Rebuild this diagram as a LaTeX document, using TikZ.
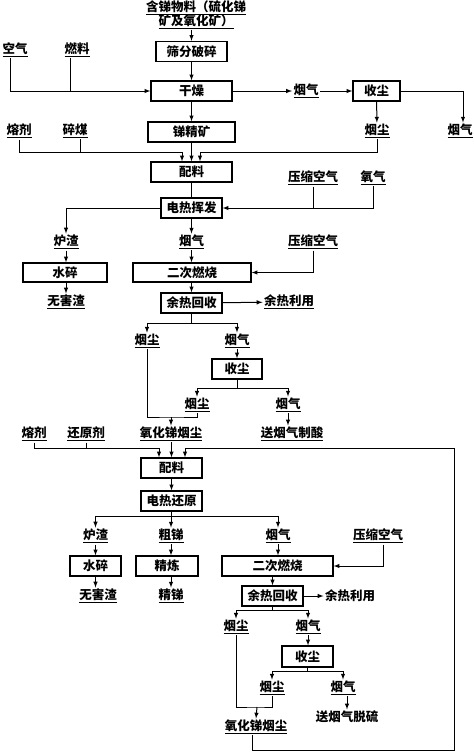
\documentclass[tikz,border=0pt]{standalone}
\usepackage{fontspec}
\newfontfamily\cjk{Noto Sans CJK SC}
\usetikzlibrary{arrows}
\tikzset{
    box/.style={draw,line width=1.3pt,minimum height=20pt,inner sep=0pt,font=\cjk\bfseries\fontsize{12.5}{14}\selectfont},
    tag/.style={inner sep=1pt,font=\cjk\bfseries\fontsize{12.5}{14}\selectfont},
}
\newcommand\ul[1]{\underline{#1}}
\begin{document}
\begin{tikzpicture}[x=1pt,y=-1pt,line width=1pt,>=latex]
    \useasboundingbox (0,0) rectangle (474,753);
    % drying
    \node[tag,align=center,inner sep=0pt] (feed) at (196,15) {\ul{含锑物料（硫化锑}\\[-1pt]\ul{矿及氧化矿）}};
    \node[box,minimum width=71pt] (sf) at (191.5,51.5) {筛分破碎};
    \node[tag] (air) at (15,50) {\ul{空气}};
    \node[tag] (fuel) at (77,50) {\ul{燃料}};
    \node[box,minimum width=81pt] (gz) at (191.5,91) {干燥};
    \node[tag] (yq1) at (306,91) {\ul{烟气}};
    \node[box,minimum width=47pt] (sc1) at (376.5,91) {收尘};
    \node[tag] (yc1) at (377,131) {\ul{烟尘}};
    \node[tag] (yq2) at (460,131) {\ul{烟气}};
    \node[box,minimum width=87pt] (jk) at (191.5,132) {锑精矿};
    \node[tag] (rj1) at (19,131) {\ul{熔剂}};
    \node[tag] (sm) at (75,131) {\ul{碎煤}};
    \draw[->] (feed.south -| sf.north) -- (sf.north);
    \draw[->] (sf) -- (gz);
    \draw[->] ([xshift=-5pt]air.south) |- (gz.west);
    \draw ([xshift=-7pt]fuel.south) -- ([xshift=-7pt]fuel.south |- gz.west);
    \draw[->] (gz) -- (yq1);
    \draw[->] (yq1) -- (sc1);
    \draw[->] (sc1.east) -| ([xshift=3pt]yq2.north);
    \draw[->] (sc1) -- (yc1);
    \draw[->] (gz) -- (jk);
    % volatilization
    \node[box,minimum width=81pt] (pl1) at (191.5,172) {配料};
    \coordinate (j1) at (182,152);
    \coordinate (j2) at (200,152);
    \draw[->] (rj1.south) |- (j1) -- (j1 |- pl1.north);
    \draw (sm.south -| 80,0) -- (j1 -| 80,0);
    \draw[->] (jk) -- (pl1);
    \draw[->] (yc1.south) |- (j2) -- (j2 |- pl1.north);
    \node[tag] (ya1) at (313,178) {\ul{压缩空气}};
    \node[tag] (o2) at (373,178) {\ul{氧气}};
    \node[box,minimum width=61pt] (dh) at (191.5,208) {电热挥发};
    \draw (pl1) -- (dh);
    \draw[->] (o2.south) |- (dh.east);
    \draw (ya1.south) -- (ya1.south |- dh.east);
    \node[tag] (lz1) at (66,242) {\ul{炉渣}};
    \node[tag] (yq3) at (191.5,242) {\ul{烟气}};
    \node[tag] (ya2) at (313,242) {\ul{压缩空气}};
    \node[box,minimum width=84pt,minimum height=19pt] (ss1) at (65,272.5) {水碎};
    \node[box,minimum width=118pt,minimum height=19pt] (ec1) at (192,272.5) {二次燃烧};
    \node[tag] (wh1) at (66,302) {\ul{无害渣}};
    \node[box,minimum width=61pt] (yr1) at (191.5,303) {余热回收};
    \node[tag] (ly1) at (289,302) {\ul{余热利用}};
    \draw[->] (dh.west) -| (lz1.north);
    \draw[->] (lz1) -- (lz1 |- ss1.north);
    \draw[->] (ss1.south -| wh1) -- (wh1);
    \draw[->] (dh) -- (yq3);
    \draw[->] (yq3) -- (yq3 |- ec1.north);
    \draw[->] (ya2.south) |- (ec1.east);
    \draw[->] (ec1.south -| yr1) -- (yr1);
    \draw[->] (yr1) -- (ly1);
    \node[tag] (yc2) at (147,341) {\ul{烟尘}};
    \node[tag] (yq4) at (237,341) {\ul{烟气}};
    \node[box,minimum width=50pt] (sc2) at (237,369) {收尘};
    \node[tag] (yc3) at (197,405) {\ul{烟尘}};
    \node[tag] (yq5) at (288,405) {\ul{烟气}};
    \node[tag] (zs) at (292,434) {\ul{送烟气制酸}};
    \node[tag] (ox1) at (171,434) {\ul{氧化锑烟尘}};
    \draw[->] (yr1.south) -- ++(0,10) -| (yc2.north);
    \draw[->] (yr1.south) -- ++(0,10) -| (yq4.north);
    \draw[->] (yq4) -- (sc2);
    \draw[->] (sc2.south) -- ++(0,9) -| (yc3.north);
    \draw[->] (sc2.south) -- ++(0,9) -| (yq5.north);
    \draw[->] (yq5.south) -- (yq5.south |- zs.north);
    \coordinate (k1) at (171,417);
    \draw (yc2.south) |- (k1) -| (yc3.south);
    \draw[->] (k1) -- (ox1.north);
    % reduction
    \node[tag] (rj2) at (34,434) {\ul{熔剂}};
    \node[tag] (hy) at (86,434) {\ul{还原剂}};
    \node[box,minimum width=61pt] (pl2) at (171.5,468) {配料};
    \node[box,minimum width=61pt] (dr) at (171.5,501) {电热还原};
    \coordinate (j3) at (159,448);
    \coordinate (j4) at (185,448);
    \coordinate (r1) at (454,750);
    \draw[->] (rj2.south) |- (j3) -- (j3 |- pl2.north);
    \draw (hy.south) -- (hy.south |- j3);
    \draw[->] (ox1.south -| pl2) -- (pl2);
    \draw[->] (pl2) -- (dr);
    \node[tag] (lz2) at (95.5,536) {\ul{炉渣}};
    \node[tag] (cs) at (171,536) {\ul{粗锑}};
    \node[tag] (yq6) at (278,536) {\ul{烟气}};
    \node[tag] (ya3) at (378,536) {\ul{压缩空气}};
    \node[box,minimum width=51pt] (ss2) at (95.5,566) {水碎};
    \node[box,minimum width=62pt] (jl) at (167,566) {精炼};
    \node[box,minimum width=111pt] (ec2) at (277.5,566) {二次燃烧};
    \node[tag] (wh2) at (98,596) {\ul{无害渣}};
    \node[tag] (js) at (171,596) {\ul{精锑}};
    \node[box,minimum width=61pt] (yr2) at (272.5,596) {余热回收};
    \node[tag] (ly2) at (350,596) {余热利用};
    \draw[->] (dr.south) -- ++(0,5) -| (lz2.north);
    \draw[->] (dr.south) -- ++(0,5) -| (cs.north);
    \draw[->] (dr.south) -- ++(0,5) -| (yq6.north);
    \draw[->] (lz2) -- (ss2);
    \draw[->] (ss2.south) -- (ss2.south |- wh2.north);
    \draw[->] (cs) -- (cs |- jl.north);
    \draw[->] (jl.south -| js) -- (js);
    \draw[->] (yq6) -- (yq6 |- ec2.north);
    \draw[->] ([xshift=5pt]ya3.south) |- (ec2.east);
    \draw[->] (ec2.south -| yr2) -- (yr2);
    \draw[->] (yr2) -- (ly2);
    \node[tag] (yc4) at (236,627) {\ul{烟尘}};
    \node[tag] (yq7) at (308,627) {\ul{烟气}};
    \node[box,minimum width=51pt,minimum height=21pt] (sc3) at (307.5,656.5) {收尘};
    \node[tag] (yc5) at (272,688) {\ul{烟尘}};
    \node[tag] (yq8) at (343,688) {\ul{烟气}};
    \node[tag] (tl) at (347,717) {送烟气脱硫};
    \node[tag] (ox2) at (256,727) {\ul{氧化锑烟尘}};
    \draw[->] (yr2.south) -- ++(0,4) -| (yc4.north);
    \draw[->] (yr2.south) -- ++(0,4) -| (yq7.north);
    \draw[->] (yq7) -- (yq7 |- sc3.north);
    \draw[->] (sc3.south) -- ++(0,4) -| (yc5.north);
    \draw[->] (sc3.south) -- ++(0,4) -| (yq8.north);
    \draw[->] (yq8.south -| tl) -- (tl);
    \coordinate (k2) at (257,707);
    \draw (yc4.south) |- (k2) -| (yc5.south);
    \draw[->] (k2) -- (ox2.north);
    % recycle of the oxide dust
    \draw[->] ([xshift=-4pt]ox2.south) |- (r1) |- (j4) -- (j4 |- pl2.north);
\end{tikzpicture}
\end{document}
